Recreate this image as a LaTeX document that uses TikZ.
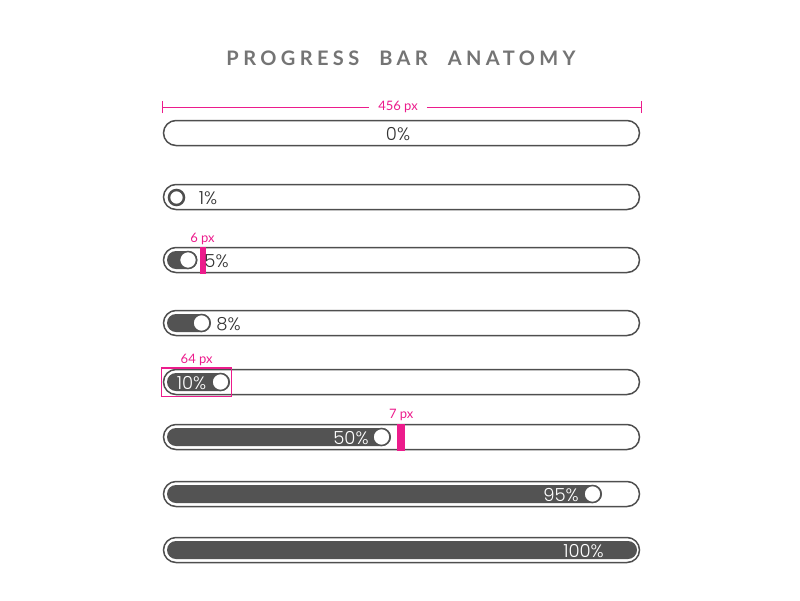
\documentclass[tikz,border=0pt]{standalone}
\usepackage{fontspec}
\setmainfont{Lato}
\newfontfamily\titlefont[LetterSpace=22]{Lato}
\newfontfamily\pctfont{Poppins Light}
\usetikzlibrary{positioning}
\definecolor{barline}{HTML}{4E4E4E}
\definecolor{barfill}{HTML}{535353}
\definecolor{pink}{HTML}{EC1C8C}
\definecolor{titlegray}{HTML}{747474}
\definecolor{pcttext}{HTML}{333333}

\begin{document}
\begin{tikzpicture}[x=1pt,y=-1pt,
  outline/.style={draw=barline,line width=1.5pt,rounded corners=12.5pt},
  fill bar/.style={fill=barfill,rounded corners=9pt},
  knob/.style={circle,fill=white,draw=barfill,line width=1.5pt,minimum size=17pt,inner sep=0pt},
  ring/.style={circle,fill=white,draw=barline,line width=2.5pt,minimum size=15pt,inner sep=0pt},
  pct/.style={font=\pctfont\fontsize{18}{18}\selectfont,inner sep=0pt},
  dark/.style={pct,text=pcttext},
  light/.style={pct,text=white},
  marker/.style={fill=pink,inner sep=0pt,minimum height=27pt},
  dim/.style={text=pink,font=\fontsize{13}{13}\selectfont,inner sep=1pt}]
\useasboundingbox (0,0) rectangle (800,600);

\node[text=titlegray,font=\titlefont\bfseries\fontsize{20}{20}\selectfont] (title) at (401,58) {PROGRESS\hspace{20pt}BAR\hspace{20pt}ANATOMY};

\coordinate (dimL) at (162.5,107);
\coordinate (dimR) at (641.5,107);
\node[dim,fill=white,inner xsep=9pt] (width) at (398,107) {456 px};
\draw[pink] (dimL) -- (width) (width) -- (dimR);
\draw[pink] ([yshift=-6pt]dimL) -- ([yshift=6pt]dimL);
\draw[pink] ([yshift=-6pt]dimR) -- ([yshift=6pt]dimR);

\foreach \y in {133,197,260,323,382,437,494,550}
  \draw[outline] (163.5,\y-12.5) rectangle (639.5,\y+12.5);

\foreach \y/\e in {260/197.5,323/211,382/230,437/391,494/602,550/637}
  \fill[fill bar] (167,\y-9) rectangle (\e,\y+9);

\node[dark] (p0) at (398,134) {0\%};

\node[ring] (k1) at (176.5,197.5) {};
\node[dark] (p1) at (208,198) {1\%};

\node[knob] (k5) at (188,260) {};
\node[marker,minimum width=6pt] (m6) at (202.5,260.5) {};
\node[dim,above=1pt of m6] (l6) {6 px};
\node[dark] (p5) at (216.5,261) {5\%};

\node[knob] (k8) at (201.5,323) {};
\node[dark] (p8) at (228.5,324) {8\%};

\node[knob] (k10) at (220.5,382) {};
\node[light] (p10) at (191.5,383) {10\%};
\node[draw=pink,line width=1.2pt,minimum width=70pt,minimum height=28.5pt,inner sep=0pt] (span) at (196.7,382.2) {};
\node[dim,above=0pt of span] (l64) {64 px};

\node[knob] (k50) at (381.5,437) {};
\node[light] (p50) at (351,438) {50\%};
\node[marker,minimum width=7.5pt] (m7) at (401.2,437.5) {};
\node[dim,above=1.5pt of m7] (l7) {7 px};

\node[knob] (k95) at (592.5,494) {};
\node[light] (p95) at (561,495) {95\%};

\node[light] (p100) at (583.5,551) {100\%};
\end{tikzpicture}
\end{document}
